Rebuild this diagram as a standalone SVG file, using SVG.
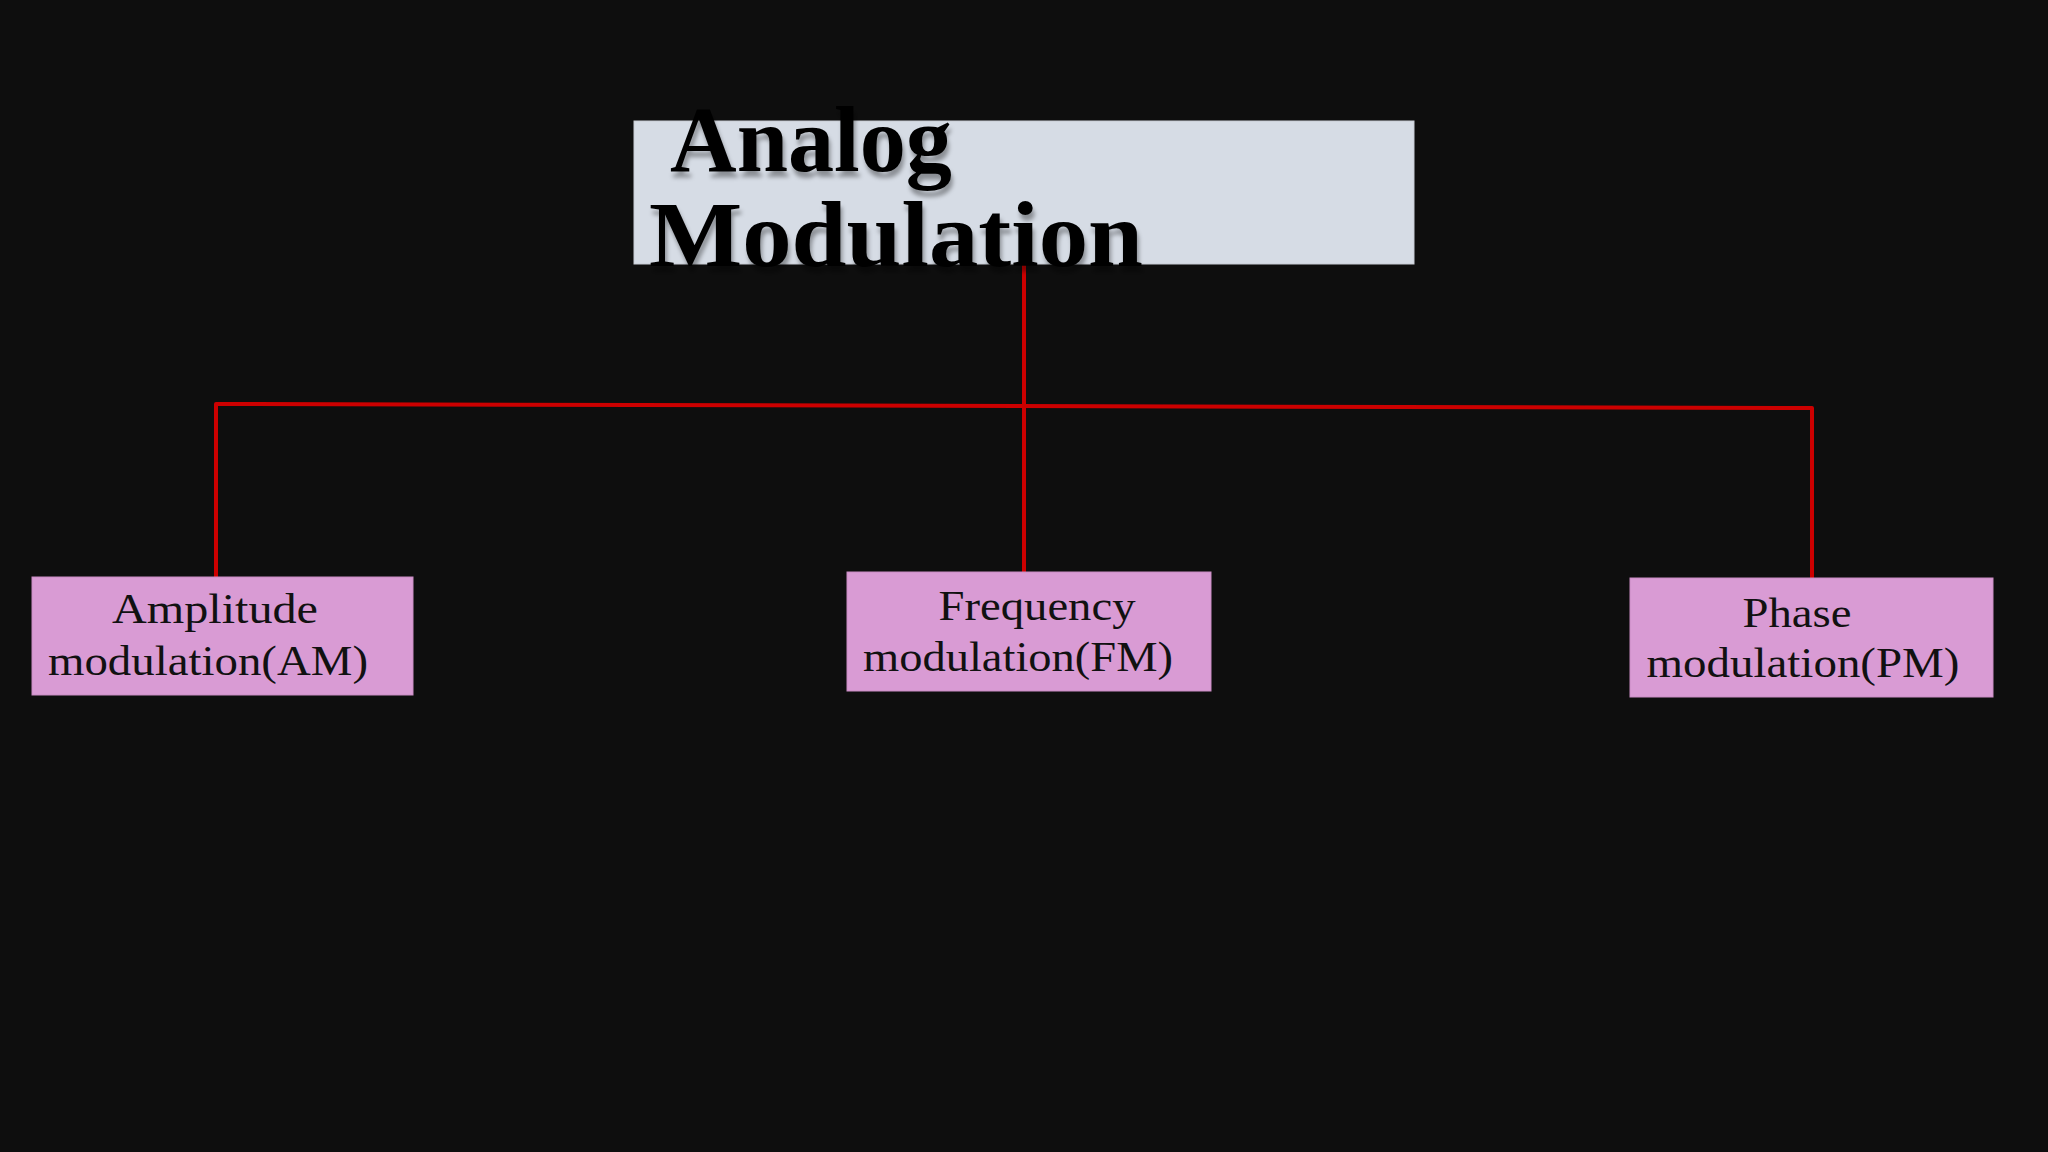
<svg xmlns="http://www.w3.org/2000/svg" width="2048" height="1152" viewBox="0 0 2048 1152">
  <defs>
    <filter id="shadow" x="-10%" y="-20%" width="120%" height="150%">
      <feDropShadow dx="2" dy="6" stdDeviation="2" flood-color="#000000" flood-opacity="0.35"/>
    </filter>
  </defs>
  <style>
    .bg { fill: #0e0e0e; }
    .title-box { fill: #d6dce5; stroke: #c8ccd4; stroke-width: 1; }
    .title { font-family: "Liberation Serif", "Times New Roman", serif; font-weight: bold; font-size: 94px; fill: #000000; }
    .box { fill: #d99bd4; stroke: #c98cc4; stroke-width: 1; }
    .label { font-family: "Liberation Serif", "Times New Roman", serif; font-size: 43px; fill: #111111; }
    .conn { fill: none; stroke: #cc0000; stroke-width: 4; stroke-linejoin: round; }
  </style>
  <rect class="bg" x="0" y="0" width="2048" height="1152"/>

  <g id="connectors">
    <line class="conn" x1="1024" y1="264" x2="1024" y2="572"/>
    <polyline class="conn" points="216,577 216,404 1812,408 1812,578"/>
  </g>

  <g id="node-title">
    <rect class="title-box" x="634" y="121" width="780" height="143"/>
    <g filter="url(#shadow)">
      <text class="title" x="670" y="171" textLength="282" lengthAdjust="spacingAndGlyphs">Analog</text>
      <text class="title" x="649" y="266" textLength="494" lengthAdjust="spacingAndGlyphs">Modulation</text>
    </g>
  </g>

  <g id="node-am">
    <rect class="box" x="32" y="577" width="381" height="118"/>
    <text class="label" x="215" y="623" text-anchor="middle" textLength="206" lengthAdjust="spacingAndGlyphs">Amplitude</text>
    <text class="label" x="208" y="675" text-anchor="middle" textLength="320" lengthAdjust="spacingAndGlyphs">modulation(AM)</text>
  </g>

  <g id="node-fm">
    <rect class="box" x="847" y="572" width="364" height="119"/>
    <text class="label" x="1037" y="620" text-anchor="middle" textLength="197" lengthAdjust="spacingAndGlyphs">Frequency</text>
    <text class="label" x="1018" y="671" text-anchor="middle" textLength="310" lengthAdjust="spacingAndGlyphs">modulation(FM)</text>
  </g>

  <g id="node-pm">
    <rect class="box" x="1630" y="578" width="363" height="119"/>
    <text class="label" x="1797" y="627" text-anchor="middle" textLength="109" lengthAdjust="spacingAndGlyphs">Phase</text>
    <text class="label" x="1803" y="677" text-anchor="middle" textLength="313" lengthAdjust="spacingAndGlyphs">modulation(PM)</text>
  </g>
</svg>
